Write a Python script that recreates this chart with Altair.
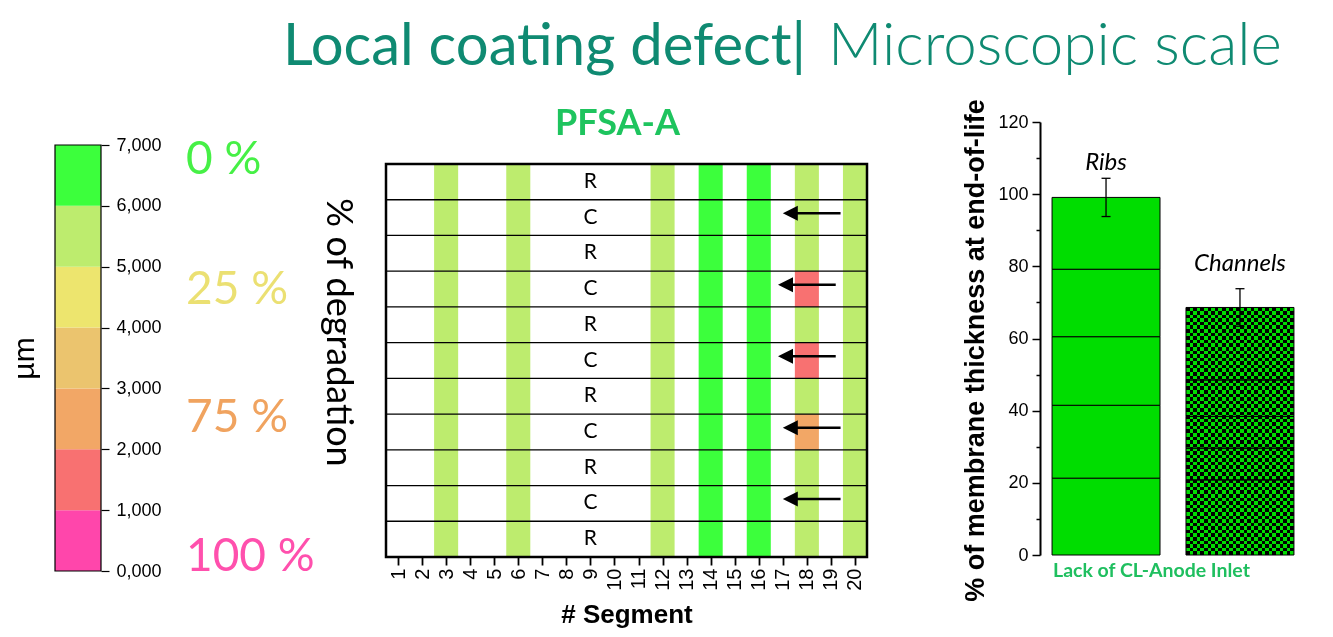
import altair as alt
import pandas as pd

# ---------------- data ----------------
# colour bands of membrane thickness (µm)
band_lo = [0, 1000, 2000, 3000, 4000, 5000, 6000]
band_hi = [1000, 2000, 3000, 4000, 5000, 6000, 7000]
band_colors = ["#ff46ab", "#f87171", "#f2a766", "#ebc46e", "#ede56e", "#bdec6e", "#3cff3c"]
colorbar_ticks = [0, 1000, 2000, 3000, 4000, 5000, 6000, 7000]

degradation_labels = ["0 %", "25 %", "75 %", "100 %"]
degradation_anchor_um = [6750, 4620, 2510, 230]
degradation_colors = ["#46f046", "#ebe072", "#f0a35f", "#ff50ad"]

# segment map: rows alternate rib / channel, values in µm (blank cells have no value)
segments = list(range(1, 21))
row_kind = ["R", "C", "R", "C", "R", "C", "R", "C", "R", "C", "R"]
cell_um = {
    3:  [5500, 5500, 5500, 5500, 5500, 5500, 5500, 5500, 5500, 5500, 5500],
    6:  [5500, 5500, 5500, 5500, 5500, 5500, 5500, 5500, 5500, 5500, 5500],
    12: [5500, 5500, 5500, 5500, 5500, 5500, 5500, 5500, 5500, 5500, 5500],
    14: [6500, 6500, 6500, 6500, 6500, 6500, 6500, 6500, 6500, 6500, 6500],
    16: [6500, 6500, 6500, 6500, 6500, 6500, 6500, 6500, 6500, 6500, 6500],
    18: [5500, 5500, 5500, 1500, 5500, 1500, 5500, 2500, 5500, 5500, 5500],
    20: [5500, 5500, 5500, 5500, 5500, 5500, 5500, 5500, 5500, 5500, 5500],
}
arrow_rows = [1, 3, 5, 7, 9]
arrow_tail = [19.4, 19.2, 19.2, 19.4, 19.4]
arrow_tip = [17.0, 16.8, 16.8, 17.0, 17.0]

# membrane thickness at end of life
bar_names = ["Ribs", "Channels"]
membrane_pct = [99.1, 68.6]
membrane_err = [5.3, 5.2]
ribs_levels = [21.3, 41.5, 60.5, 79.2]
channels_levels = [20.8, 29.6, 38.4, 48.5]

# ---------------- styles ----------------
SANS = "Liberation Sans"
CAL = "Lato"
TEAL = "#0f8a72"
BAR_GREEN = "#00dd00"
H = 449

band_scale = alt.Scale(type="threshold", domain=band_lo[1:], range=band_colors)

# ---------------- colour bar ----------------
cb_df = pd.DataFrame({"lo": band_lo, "hi": band_hi})
cb_df["um"] = (cb_df["lo"] + cb_df["hi"]) / 2
cb_df["x0"] = 0
cb_df["x1"] = 1
cb_x = alt.Scale(domain=[0, 1], range=[0, 46], nice=False, zero=False)
cb_y = alt.Scale(domain=[0, 7000], range=[H, 23], nice=False, zero=False)

bands = alt.Chart(cb_df).mark_rect().encode(
    x=alt.X("x0:Q", scale=cb_x, axis=None),
    x2="x1:Q",
    y=alt.Y("lo:Q", scale=cb_y, axis=alt.Axis(
        orient="right", offset=-112, values=colorbar_ticks,
        labelExpr="datum.value === 0 ? '0,000' : format(datum.value, ',')",
        tickSize=8, tickWidth=1.2, domain=False, grid=False,
        labelFont=SANS, labelFontSize=18, labelPadding=7, title=None)),
    y2="hi:Q",
    color=alt.Color("um:Q", scale=band_scale, legend=None),
)

border_df = pd.DataFrame({"lo": [band_lo[0]], "hi": [band_hi[-1]], "x0": [0], "x1": [1]})
border = alt.Chart(border_df).mark_rect(fillOpacity=0, stroke="black", strokeWidth=1.2).encode(
    x=alt.X("x0:Q", scale=cb_x, axis=None),
    x2="x1:Q",
    y=alt.Y("lo:Q", scale=cb_y, axis=alt.Axis(
        orient="left", title="µm", labels=False, ticks=False, domain=False, grid=False,
        titleFont=SANS, titleFontSize=30, titleFontWeight="normal", titlePadding=16)),
    y2="hi:Q",
)

pct_df = pd.DataFrame({"label": degradation_labels, "anchor": degradation_anchor_um,
                       "hex": degradation_colors})
pct_text = alt.Chart(pct_df).mark_text(align="left", baseline="middle", font=CAL, fontSize=46).encode(
    x=alt.value(131),
    y=alt.Y("anchor:Q", scale=cb_y, axis=None),
    text="label:N",
    fill=alt.Fill("hex:N", scale=None),
)

panel_a = alt.layer(bands, border, pct_text).resolve_axis(y="independent").properties(width=158, height=H)

# ---------------- segment map ----------------
cell_rows = []
for seg, vals in cell_um.items():
    for r, v in enumerate(vals):
        cell_rows.append({"xl": seg - 0.5, "xr": seg + 0.5, "r0": r, "r1": r + 1, "um": v})
cells_df = pd.DataFrame(cell_rows)

x_lo, x_hi = segments[0] - 0.5, segments[-1] + 0.5
hx = alt.Scale(domain=[x_lo, x_hi], nice=False, zero=False)
hy = alt.Scale(domain=[0, len(row_kind)], range=[42, 435], nice=False, zero=False)

cells = alt.Chart(cells_df).mark_rect().encode(
    x=alt.X("xl:Q", scale=hx, axis=alt.Axis(
        orient="bottom", offset=-14, values=segments, format="d", labelAngle=-90,
        tickSize=8, tickWidth=1.8, domain=False, grid=False,
        labelFont=SANS, labelFontSize=20, labelPadding=3,
        title="# Segment", titleFont=SANS, titleFontSize=26, titleFontWeight="bold", titlePadding=11)),
    x2="xr:Q",
    y=alt.Y("r0:Q", scale=hy, axis=alt.Axis(
        orient="left", labels=False, ticks=False, domain=False, grid=False,
        title="% of degradation", titleAngle=90, titleFont=CAL, titleFontSize=36,
        titleFontWeight="normal", titleX=-49, titleY=210, titleAlign="center",
        titleBaseline="middle")),
    y2="r1:Q",
    color=alt.Color("um:Q", scale=band_scale, legend=None),
)

lines_df = pd.DataFrame({"b": list(range(1, len(row_kind)))})
lines_df["x0"] = x_lo
lines_df["x1"] = x_hi
row_lines = alt.Chart(lines_df).mark_rule(color="black", strokeWidth=1.3).encode(
    x=alt.X("x0:Q", scale=hx, axis=None), x2="x1:Q",
    y=alt.Y("b:Q", scale=hy, axis=None),
)

frame_df = pd.DataFrame({"x0": [x_lo], "x1": [x_hi], "r0": [0], "r1": [len(row_kind)]})
frame = alt.Chart(frame_df).mark_rect(fillOpacity=0, stroke="black", strokeWidth=2.5).encode(
    x=alt.X("x0:Q", scale=hx, axis=None), x2="x1:Q",
    y=alt.Y("r0:Q", scale=hy, axis=None), y2="r1:Q",
)

label_segment = 9
kind_df = pd.DataFrame({"kind": row_kind, "yc": [i + 0.5 for i in range(len(row_kind))]})
kind_df["xc"] = label_segment
kind_text = alt.Chart(kind_df).mark_text(font=CAL, fontSize=21, color="black", baseline="middle").encode(
    x=alt.X("xc:Q", scale=hx, axis=None),
    y=alt.Y("yc:Q", scale=hy, axis=None),
    text="kind:N",
)

arrow_df = pd.DataFrame({"row": arrow_rows, "tail": arrow_tail, "tip": arrow_tip})
arrow_df["ya"] = arrow_df["row"] + 0.38
arrow_df["shaft"] = arrow_df["tip"] + 0.3
arrow_line = alt.Chart(arrow_df).mark_rule(color="black", strokeWidth=2.5).encode(
    x=alt.X("shaft:Q", scale=hx, axis=None), x2="tail:Q",
    y=alt.Y("ya:Q", scale=hy, axis=None),
)
arrow_head = alt.Chart(arrow_df).mark_point(
    shape="M0,0 L2,-1 L2,1 Z", filled=True, color="black", size=225, opacity=1
).encode(
    x=alt.X("tip:Q", scale=hx, axis=None),
    y=alt.Y("ya:Q", scale=hy, axis=None),
)

map_title = alt.Chart(pd.DataFrame({"t": ["PFSA-A"]})).mark_text(
    font=CAL, fontSize=36, fontWeight="bold", color="#1ec45e", align="center", baseline="alphabetic"
).encode(x=alt.value(231.5), y=alt.value(13), text="t:N")

head_a = alt.Chart(pd.DataFrame({"t": ["Local coating defect|"]})).mark_text(
    font=CAL, fontSize=58, fontWeight="normal", color=TEAL, align="left", baseline="alphabetic"
).encode(x=alt.value(-103), y=alt.value(-57), text="t:N")
head_b = alt.Chart(pd.DataFrame({"t": ["Microscopic scale"]})).mark_text(
    font=CAL, fontSize=60, fontWeight=300, color=TEAL, align="left", baseline="alphabetic"
).encode(x=alt.value(442), y=alt.value(-57), text="t:N")

panel_b = alt.layer(cells, row_lines, frame, kind_text, arrow_line, arrow_head,
                    map_title, head_a, head_b).resolve_axis(
    x="independent", y="independent").properties(width=481, height=H)

# ---------------- bar chart ----------------
bx = alt.Scale(domain=bar_names, paddingInner=0.194, paddingOuter=0.09)
by = alt.Scale(domain=[0, 120], range=[433, 0], nice=False, zero=False)

seg_rows = []
for name, levels, top in zip(bar_names, [ribs_levels, channels_levels], membrane_pct):
    bounds = [0] + levels + [top]
    for lo, hi in zip(bounds[:-1], bounds[1:]):
        seg_rows.append({"name": name, "lo": lo, "hi": hi})
seg_df = pd.DataFrame(seg_rows)

y_axis = alt.Axis(
    values=list(range(0, 121, 10)),
    labelExpr="datum.value % 20 === 0 ? datum.label : ''",
    tickSize={"condition": {"test": "datum.value % 20 === 0", "value": 8}, "value": 4},
    tickWidth=1.5, domainWidth=2, grid=False,
    labelFont=SANS, labelFontSize=18, labelPadding=4,
    title="% of membrane thickness at end-of-life", titleFont=SANS, titleFontSize=27,
    titleFontWeight="bold", titleAngle=270, titleX=-65, titleY=228,
    titleAlign="center", titleBaseline="middle",
)

ribs = alt.Chart(seg_df).transform_filter(alt.datum.name == "Ribs").mark_bar(
    fill=BAR_GREEN, stroke="black", strokeWidth=1
).encode(
    x=alt.X("name:N", scale=bx, axis=None),
    y=alt.Y("lo:Q", scale=by, axis=y_axis),
    y2="hi:Q",
)


def stripes(n, along_x):
    stops = []
    for i in range(n):
        c = BAR_GREEN if i % 2 == 0 else "#000000"
        stops.append(alt.GradientStop(color=c, offset=i / n))
        stops.append(alt.GradientStop(color=c, offset=(i + 1) / n))
    if along_x:
        return alt.LinearGradient(gradient="linear", stops=stops, x1=0, y1=0, x2=1, y2=0)
    return alt.LinearGradient(gradient="linear", stops=stops, x1=0, y1=0, x2=0, y2=1)


pattern_df = pd.DataFrame({"name": ["Channels"], "lo": [0], "hi": [membrane_pct[1]]})
checker_cols = alt.Chart(pattern_df).mark_bar(fill=stripes(30, True)).encode(
    x=alt.X("name:N", scale=bx, axis=None),
    y=alt.Y("lo:Q", scale=by, axis=None), y2="hi:Q",
)
checker_rows = alt.Chart(pattern_df).mark_bar(fill=stripes(69, False), blend="difference").encode(
    x=alt.X("name:N", scale=bx, axis=None),
    y=alt.Y("lo:Q", scale=by, axis=None), y2="hi:Q",
)
channels = alt.Chart(seg_df).transform_filter(alt.datum.name == "Channels").mark_bar(
    fillOpacity=0, stroke="black", strokeWidth=1
).encode(
    x=alt.X("name:N", scale=bx, axis=None),
    y=alt.Y("lo:Q", scale=by, axis=None), y2="hi:Q",
)

err_df = pd.DataFrame({"name": bar_names, "mean": membrane_pct, "err": membrane_err})
err_df["elo"] = err_df["mean"] - err_df["err"]
err_df["ehi"] = err_df["mean"] + err_df["err"]
err_rule = alt.Chart(err_df).mark_rule(color="black", strokeWidth=1.3).encode(
    x=alt.X("name:N", scale=bx, axis=None),
    y=alt.Y("elo:Q", scale=by, axis=None), y2="ehi:Q",
)
cap_hi = alt.Chart(err_df).mark_tick(orient="horizontal", size=9, thickness=1.3, color="black", opacity=1).encode(
    x=alt.X("name:N", scale=bx, axis=None),
    y=alt.Y("ehi:Q", scale=by, axis=None),
)
cap_lo = alt.Chart(err_df).mark_tick(orient="horizontal", size=9, thickness=1.3, color="black", opacity=1).encode(
    x=alt.X("name:N", scale=bx, axis=None),
    y=alt.Y("elo:Q", scale=by, axis=None),
)

ribs_label = alt.Chart(err_df).transform_filter(alt.datum.name == "Ribs").mark_text(
    font=CAL, fontSize=24, fontStyle="italic", color="black", baseline="middle", dy=-15
).encode(x=alt.X("name:N", scale=bx, axis=None), y=alt.Y("ehi:Q", scale=by, axis=None), text="name:N")
channels_label = alt.Chart(err_df).transform_filter(alt.datum.name == "Channels").mark_text(
    font=CAL, fontSize=24, fontStyle="italic", color="black", baseline="middle", dy=-25
).encode(x=alt.X("name:N", scale=bx, axis=None), y=alt.Y("ehi:Q", scale=by, axis=None), text="name:N")

inlet_label = alt.Chart(pd.DataFrame({"t": ["Lack of CL-Anode Inlet"]})).mark_text(
    font=CAL, fontSize=19.5, fontWeight="bold", color="#1fbf5f", align="left", baseline="middle"
).encode(x=alt.value(13), y=alt.value(449), text="t:N")

panel_c = alt.layer(ribs, checker_cols, checker_rows, channels, err_rule, cap_hi, cap_lo,
                    ribs_label, channels_label, inlet_label).resolve_axis(
    x="independent", y="independent").properties(width=266, height=H)

chart = alt.hconcat(panel_a, panel_b, panel_c, spacing=173, bounds="flush").properties(
    padding={"left": 9, "top": 17, "right": 0, "bottom": 0}
).configure_view(stroke=None).configure_axis(
    labelColor="black", titleColor="black", tickColor="black", domainColor="black"
)

chart.save("out.html", embed_options={"renderer": "svg", "actions": False})
